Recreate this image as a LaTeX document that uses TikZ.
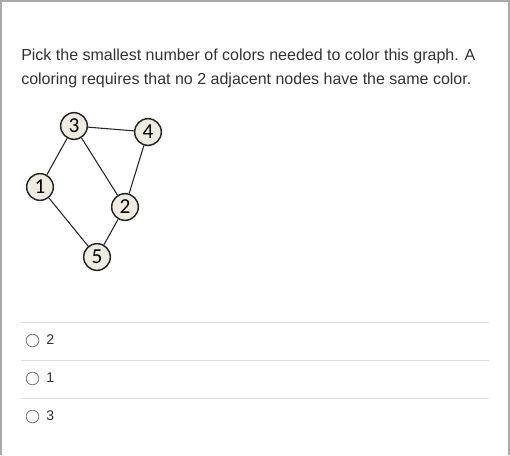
\documentclass[tikz,border=0pt]{standalone}
\usepackage{fontspec}
\setmainfont{Liberation Sans}
\newfontfamily\nodefont{Carlito}
\definecolor{txt}{HTML}{333333}
\definecolor{nodefill}{HTML}{EEECE1}
\definecolor{frame}{HTML}{AAAAAA}
\definecolor{sep}{HTML}{DDDDDD}
\definecolor{radio}{HTML}{777777}
\begin{document}
\begin{tikzpicture}[x=0.75pt,y=-0.75pt,
  gnode/.style={circle, draw=black!85, line width=1.1pt, fill=nodefill, minimum size=20pt, inner sep=0pt, font=\nodefont\fontsize{16}{16}\selectfont},
  gedge/.style={draw=black!85, line width=0.8pt},
  qtext/.style={anchor=base west, inner sep=0pt, text=txt, font=\fontsize{12}{14}\selectfont},
  radiobtn/.style={circle, draw=radio, line width=0.6pt, minimum size=9.5pt, inner sep=0pt},
  opt/.style={anchor=west, inner sep=0pt, text=txt, font=\fontsize{10.5}{12}\selectfont},
  sepline/.style={draw=sep, line width=0.75pt}]
\useasboundingbox (0,0) rectangle (510,455);
\fill[white] (0,0) rectangle (510,455);
\draw[frame, line width=0.9pt] (1,455) -- (1,1) -- (509,1) -- (509,455);
% question text
\node[qtext] (q1) at (21,60) {Pick the smallest number of colors needed to color this graph. A};
\node[qtext] (q2) at (21,84) {coloring requires that no 2 adjacent nodes have the same color.};
% graph
\node[gnode] (n3) at (74,126) {3};
\node[gnode] (n4) at (148,132) {4};
\node[gnode] (n1) at (40,187) {1};
\node[gnode] (n2) at (125,207) {2};
\node[gnode] (n5) at (97,257) {5};
\draw[gedge] (n3) -- (n1);
\draw[gedge] (n3) -- (n4);
\draw[gedge] (n3) -- (n2);
\draw[gedge] (n4) -- (n2);
\draw[gedge] (n1) -- (n5);
\draw[gedge] (n2) -- (n5);
% options
\coordinate (s1l) at (21,322); \coordinate (s1r) at (489,322);
\coordinate (s2l) at (21,360); \coordinate (s2r) at (489,360);
\coordinate (s3l) at (21,398); \coordinate (s3r) at (489,398);
\draw[sepline] (s1l) -- (s1r);
\draw[sepline] (s2l) -- (s2r);
\draw[sepline] (s3l) -- (s3r);
\node[radiobtn] (r1) at (32.5,340.5) {};
\node[radiobtn] (r2) at (32.5,378.5) {};
\node[radiobtn] (r3) at (32.5,416.5) {};
\node[opt] (o1) at (46,339.5) {2};
\node[opt] (o2) at (46,377.5) {1};
\node[opt] (o3) at (46,415.5) {3};
\end{tikzpicture}
\end{document}
